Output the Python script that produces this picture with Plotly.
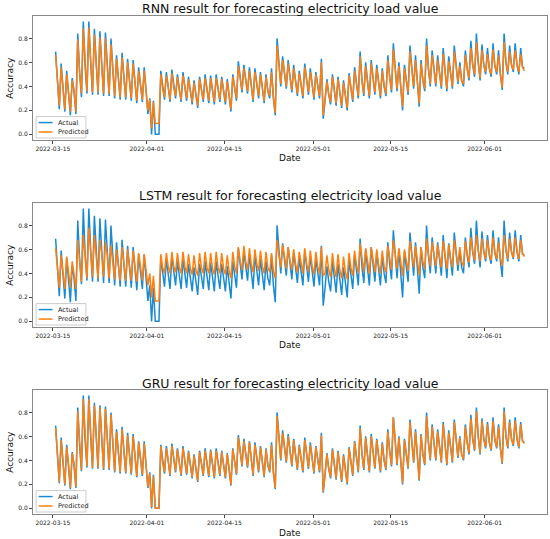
import pandas as pd
import plotly.graph_objects as go
from plotly.subplots import make_subplots

# sampled every 8h from 2022-03-15 12:00: (day peak, evening, night trough) per day
START = "2022-03-15 12:00"

actual = [
    0.69, 0.42, 0.21, 0.59, 0.40, 0.19, 0.53, 0.37, 0.16, 0.47, 0.36, 0.17, 0.84, 0.52, 0.31, 0.94, 0.56, 0.34, 0.94, 0.60, 0.33,
    0.88, 0.55, 0.33, 0.86, 0.62, 0.32, 0.85, 0.58, 0.32, 0.80, 0.50, 0.30, 0.66, 0.46, 0.29, 0.68, 0.44, 0.29, 0.63, 0.43, 0.28,
    0.62, 0.41, 0.26, 0.56, 0.43, 0.27, 0.56, 0.38, 0.17, 0.30, 0.00, 0.28, 0.00, 0.00, 0.00, 0.53, 0.38, 0.29, 0.52, 0.40, 0.27,
    0.54, 0.39, 0.30, 0.50, 0.37, 0.27, 0.52, 0.40, 0.28, 0.48, 0.36, 0.25, 0.45, 0.35, 0.22, 0.48, 0.38, 0.27, 0.50, 0.37, 0.26,
    0.49, 0.36, 0.25, 0.50, 0.38, 0.27, 0.48, 0.35, 0.25, 0.46, 0.33, 0.19, 0.50, 0.38, 0.28, 0.61, 0.45, 0.35, 0.58, 0.44, 0.34,
    0.56, 0.40, 0.27, 0.55, 0.42, 0.30, 0.52, 0.38, 0.26, 0.50, 0.36, 0.30, 0.55, 0.30, 0.16, 0.80, 0.55, 0.40, 0.65, 0.50, 0.38,
    0.62, 0.47, 0.35, 0.58, 0.45, 0.32, 0.53, 0.42, 0.30, 0.59, 0.45, 0.33, 0.55, 0.40, 0.29, 0.52, 0.40, 0.30, 0.63, 0.13, 0.28,
    0.46, 0.33, 0.25, 0.50, 0.36, 0.24, 0.48, 0.35, 0.22, 0.45, 0.30, 0.20, 0.51, 0.38, 0.27, 0.56, 0.42, 0.30, 0.69, 0.45, 0.32,
    0.60, 0.44, 0.30, 0.62, 0.45, 0.33, 0.58, 0.42, 0.30, 0.55, 0.40, 0.32, 0.66, 0.48, 0.35, 0.76, 0.52, 0.36, 0.60, 0.42, 0.20,
    0.58, 0.45, 0.33, 0.74, 0.52, 0.38, 0.66, 0.40, 0.23, 0.62, 0.45, 0.36, 0.80, 0.55, 0.40, 0.70, 0.52, 0.40, 0.66, 0.50, 0.38,
    0.72, 0.50, 0.36, 0.65, 0.48, 0.38, 0.74, 0.55, 0.42, 0.60, 0.45, 0.40, 0.70, 0.55, 0.45, 0.78, 0.58, 0.48, 0.84, 0.60, 0.45,
    0.75, 0.58, 0.50, 0.72, 0.55, 0.48, 0.76, 0.57, 0.50, 0.70, 0.50, 0.37, 0.84, 0.60, 0.50, 0.74, 0.58, 0.52, 0.76, 0.58, 0.50,
    0.72, 0.56, 0.55,
]

rnn_pred = [
    0.66, 0.42, 0.24, 0.56, 0.40, 0.21, 0.50, 0.37, 0.19, 0.45, 0.36, 0.19, 0.79, 0.52, 0.34, 0.88, 0.56, 0.36, 0.89, 0.60, 0.35,
    0.83, 0.55, 0.35, 0.81, 0.61, 0.34, 0.80, 0.58, 0.34, 0.75, 0.50, 0.32, 0.63, 0.46, 0.31, 0.64, 0.44, 0.31, 0.60, 0.43, 0.30,
    0.59, 0.41, 0.28, 0.53, 0.43, 0.29, 0.53, 0.38, 0.20, 0.29, 0.05, 0.27, 0.09, 0.09, 0.09, 0.50, 0.38, 0.31, 0.49, 0.40, 0.29,
    0.51, 0.39, 0.32, 0.48, 0.37, 0.29, 0.49, 0.40, 0.30, 0.46, 0.36, 0.27, 0.43, 0.35, 0.24, 0.46, 0.38, 0.29, 0.47, 0.37, 0.28,
    0.47, 0.36, 0.27, 0.47, 0.38, 0.29, 0.46, 0.35, 0.27, 0.44, 0.33, 0.21, 0.48, 0.38, 0.30, 0.57, 0.45, 0.37, 0.55, 0.44, 0.36,
    0.53, 0.40, 0.29, 0.52, 0.42, 0.32, 0.50, 0.38, 0.28, 0.48, 0.36, 0.32, 0.52, 0.31, 0.18, 0.74, 0.55, 0.42, 0.62, 0.50, 0.40,
    0.59, 0.47, 0.37, 0.55, 0.45, 0.34, 0.51, 0.42, 0.32, 0.56, 0.45, 0.35, 0.52, 0.40, 0.31, 0.50, 0.40, 0.32, 0.60, 0.16, 0.30,
    0.44, 0.33, 0.27, 0.48, 0.36, 0.26, 0.46, 0.35, 0.24, 0.43, 0.31, 0.22, 0.49, 0.38, 0.29, 0.53, 0.42, 0.32, 0.65, 0.45, 0.34,
    0.57, 0.44, 0.32, 0.59, 0.45, 0.35, 0.55, 0.42, 0.32, 0.53, 0.40, 0.34, 0.62, 0.48, 0.37, 0.71, 0.52, 0.38, 0.57, 0.42, 0.23,
    0.55, 0.45, 0.35, 0.69, 0.52, 0.40, 0.62, 0.40, 0.26, 0.59, 0.45, 0.38, 0.74, 0.55, 0.42, 0.66, 0.52, 0.42, 0.62, 0.50, 0.40,
    0.67, 0.50, 0.38, 0.61, 0.48, 0.40, 0.69, 0.55, 0.44, 0.57, 0.45, 0.42, 0.66, 0.55, 0.47, 0.72, 0.58, 0.50, 0.77, 0.60, 0.47,
    0.70, 0.58, 0.52, 0.67, 0.55, 0.50, 0.71, 0.57, 0.52, 0.66, 0.50, 0.39, 0.77, 0.60, 0.52, 0.69, 0.58, 0.54, 0.70, 0.58, 0.52,
    0.67, 0.56, 0.53,
]

lstm_pred = [
    0.61, 0.45, 0.28, 0.55, 0.42, 0.27, 0.54, 0.40, 0.28, 0.50, 0.40, 0.27, 0.68, 0.50, 0.33, 0.72, 0.55, 0.36, 0.78, 0.58, 0.37,
    0.72, 0.55, 0.36, 0.68, 0.56, 0.37, 0.66, 0.55, 0.36, 0.63, 0.50, 0.35, 0.60, 0.47, 0.34, 0.62, 0.46, 0.34, 0.60, 0.46, 0.34,
    0.59, 0.44, 0.33, 0.57, 0.45, 0.34, 0.56, 0.42, 0.30, 0.40, 0.20, 0.38, 0.17, 0.17, 0.17, 0.56, 0.45, 0.40, 0.57, 0.46, 0.40,
    0.58, 0.46, 0.41, 0.57, 0.45, 0.40, 0.58, 0.46, 0.40, 0.56, 0.44, 0.39, 0.55, 0.43, 0.38, 0.57, 0.45, 0.40, 0.58, 0.45, 0.40,
    0.57, 0.44, 0.39, 0.58, 0.45, 0.40, 0.57, 0.44, 0.39, 0.55, 0.42, 0.36, 0.58, 0.46, 0.40, 0.62, 0.50, 0.43, 0.63, 0.50, 0.43,
    0.61, 0.48, 0.41, 0.60, 0.48, 0.42, 0.59, 0.46, 0.40, 0.58, 0.45, 0.41, 0.57, 0.42, 0.36, 0.68, 0.55, 0.45, 0.64, 0.52, 0.44,
    0.62, 0.50, 0.43, 0.60, 0.48, 0.41, 0.58, 0.47, 0.40, 0.61, 0.48, 0.41, 0.59, 0.46, 0.39, 0.58, 0.46, 0.40, 0.62, 0.38, 0.40,
    0.55, 0.43, 0.37, 0.57, 0.44, 0.37, 0.56, 0.43, 0.36, 0.54, 0.41, 0.35, 0.57, 0.45, 0.38, 0.59, 0.47, 0.40, 0.65, 0.50, 0.41,
    0.61, 0.48, 0.40, 0.62, 0.49, 0.41, 0.60, 0.47, 0.40, 0.59, 0.46, 0.41, 0.63, 0.51, 0.43, 0.68, 0.54, 0.44, 0.61, 0.47, 0.38,
    0.60, 0.49, 0.42, 0.67, 0.54, 0.45, 0.63, 0.48, 0.39, 0.62, 0.50, 0.44, 0.69, 0.56, 0.46, 0.66, 0.54, 0.46, 0.64, 0.53, 0.45,
    0.67, 0.53, 0.44, 0.64, 0.52, 0.45, 0.68, 0.56, 0.47, 0.62, 0.50, 0.46, 0.67, 0.56, 0.49, 0.70, 0.58, 0.51, 0.72, 0.59, 0.50,
    0.69, 0.58, 0.52, 0.68, 0.56, 0.51, 0.70, 0.57, 0.52, 0.66, 0.53, 0.46, 0.72, 0.59, 0.52, 0.69, 0.58, 0.53, 0.70, 0.58, 0.52,
    0.68, 0.57, 0.54,
]

gru_pred = [
    0.67, 0.42, 0.22, 0.57, 0.40, 0.20, 0.51, 0.37, 0.17, 0.46, 0.36, 0.18, 0.81, 0.52, 0.32, 0.91, 0.56, 0.35, 0.91, 0.60, 0.34,
    0.86, 0.55, 0.34, 0.84, 0.61, 0.33, 0.83, 0.58, 0.33, 0.78, 0.50, 0.31, 0.64, 0.46, 0.30, 0.66, 0.44, 0.30, 0.61, 0.43, 0.29,
    0.60, 0.41, 0.27, 0.55, 0.43, 0.28, 0.54, 0.38, 0.18, 0.29, 0.01, 0.27, 0.00, 0.00, 0.00, 0.52, 0.38, 0.30, 0.50, 0.40, 0.28,
    0.52, 0.39, 0.31, 0.49, 0.37, 0.28, 0.50, 0.40, 0.29, 0.47, 0.36, 0.26, 0.44, 0.35, 0.23, 0.47, 0.38, 0.28, 0.48, 0.37, 0.27,
    0.48, 0.36, 0.26, 0.48, 0.38, 0.28, 0.47, 0.35, 0.26, 0.45, 0.33, 0.20, 0.49, 0.38, 0.29, 0.59, 0.45, 0.36, 0.56, 0.44, 0.35,
    0.55, 0.40, 0.28, 0.53, 0.42, 0.31, 0.51, 0.38, 0.27, 0.49, 0.36, 0.31, 0.53, 0.30, 0.17, 0.77, 0.55, 0.41, 0.63, 0.50, 0.39,
    0.60, 0.47, 0.36, 0.57, 0.45, 0.33, 0.52, 0.42, 0.31, 0.57, 0.45, 0.34, 0.53, 0.40, 0.30, 0.51, 0.40, 0.31, 0.61, 0.14, 0.29,
    0.45, 0.33, 0.26, 0.49, 0.36, 0.25, 0.47, 0.35, 0.23, 0.44, 0.31, 0.21, 0.50, 0.38, 0.28, 0.55, 0.42, 0.31, 0.67, 0.45, 0.33,
    0.59, 0.44, 0.31, 0.60, 0.45, 0.34, 0.57, 0.42, 0.31, 0.54, 0.40, 0.33, 0.64, 0.48, 0.36, 0.76, 0.52, 0.37, 0.59, 0.42, 0.21,
    0.57, 0.45, 0.34, 0.72, 0.52, 0.39, 0.64, 0.40, 0.24, 0.61, 0.45, 0.37, 0.77, 0.55, 0.41, 0.68, 0.52, 0.41, 0.64, 0.50, 0.39,
    0.70, 0.50, 0.37, 0.63, 0.48, 0.39, 0.72, 0.55, 0.43, 0.59, 0.45, 0.41, 0.68, 0.55, 0.46, 0.75, 0.58, 0.49, 0.81, 0.60, 0.46,
    0.73, 0.58, 0.51, 0.70, 0.55, 0.49, 0.73, 0.57, 0.51, 0.68, 0.50, 0.38, 0.81, 0.60, 0.51, 0.72, 0.58, 0.53, 0.73, 0.58, 0.51,
    0.70, 0.56, 0.54,
]

models = ["RNN", "LSTM", "GRU"]
predictions = [rnn_pred, lstm_pred, gru_pred]
series_names = ["Actual", "Predicted"]
tick_dates = ["2022-03-15", "2022-04-01", "2022-04-15", "2022-05-01", "2022-05-15", "2022-06-01"]
y_ticks = [0.0, 0.2, 0.4, 0.6, 0.8]

BLUE = "#1a8bd3"
ORANGE = "#ff7f0e"
FONT = "DejaVu Sans"

times = pd.date_range(START, periods=len(actual), freq="8h")

fig = make_subplots(rows=3, cols=1)

# row domains (paper coords) and where the titles / labels sit
domains = [[0.751, 1.0], [0.3755, 0.6245], [0.0, 0.249]]
title_y = [1.016, 0.639, 0.263]
date_y = [0.715, 0.339, -0.038]

shapes = []
for i, (model, pred) in enumerate(zip(models, predictions), start=1):
    fig.add_trace(go.Scatter(x=times, y=actual, mode="lines", name=series_names[0],
                             line=dict(color=BLUE, width=1.5), showlegend=False), row=i, col=1)
    fig.add_trace(go.Scatter(x=times, y=pred, mode="lines", name=series_names[1],
                             line=dict(color=ORANGE, width=1.5), showlegend=False), row=i, col=1)

    d0 = domains[i - 1][0]
    fig.update_yaxes(domain=domains[i - 1], row=i, col=1)

    fig.add_annotation(text=f"{model} result for forecasting electricity load value",
                       xref="paper", yref="paper", x=0.5, y=title_y[i - 1],
                       xanchor="center", yanchor="middle",
                       showarrow=False, font=dict(size=12.5, color="#111", family=FONT))
    fig.add_annotation(text="Date", xref="paper", yref="paper", x=0.5, y=date_y[i - 1],
                       xanchor="center", yanchor="middle",
                       showarrow=False, font=dict(size=9, color="#111", family=FONT))
    fig.add_annotation(text="Accuracy", xref="paper", yref="paper", x=-0.045,
                       y=sum(domains[i - 1]) / 2, textangle=-90,
                       xanchor="center", yanchor="middle",
                       showarrow=False, font=dict(size=9, color="#111", family=FONT))

    # compact matplotlib-style legend box in the lower left corner
    shapes.append(dict(type="rect", xref="paper", yref="paper",
                       x0=0.006, x1=0.103, y0=d0 + 0.004, y1=d0 + 0.047,
                       fillcolor="rgba(255,255,255,0.85)", line=dict(color="#cccccc", width=1)))
    for k, (name, color) in enumerate(zip(series_names, [BLUE, ORANGE])):
        yy = d0 + 0.035 - k * 0.019
        shapes.append(dict(type="line", xref="paper", yref="paper",
                           x0=0.011, x1=0.038, y0=yy, y1=yy,
                           line=dict(color=color, width=1.5)))
        fig.add_annotation(text=name, xref="paper", yref="paper", x=0.045, y=yy,
                           xanchor="left", yanchor="middle", showarrow=False,
                           font=dict(size=6.5, color="#222", family=FONT))

fig.update_xaxes(
    range=["2022-03-11 10:00", "2022-06-12 06:00"],
    tickvals=tick_dates, tickformat="%Y-%m-%d",
    ticks="outside", ticklen=3, tickcolor="#444",
    tickfont=dict(size=6, family=FONT, color="#222"),
    showline=True, mirror=True, linecolor="#888", linewidth=1,
    showgrid=False, zeroline=False,
)
fig.update_yaxes(
    range=[-0.047, 0.987],
    tickvals=y_ticks, tickformat=".1f",
    ticks="outside", ticklen=3, tickcolor="#444",
    tickfont=dict(size=6, family=FONT, color="#222"),
    showline=True, mirror=True, linecolor="#888", linewidth=1,
    showgrid=False, zeroline=False,
)

fig.update_layout(
    width=550, height=539,
    margin=dict(l=33, r=3, t=16, b=25),
    plot_bgcolor="white", paper_bgcolor="white",
    font=dict(family=FONT),
    shapes=shapes,
)

# the page body has a default 8px margin; drop it so the figure fills the window
fig.write_html("out.html", config={"displayModeBar": False},
               post_script="document.body.style.margin='0px';")
